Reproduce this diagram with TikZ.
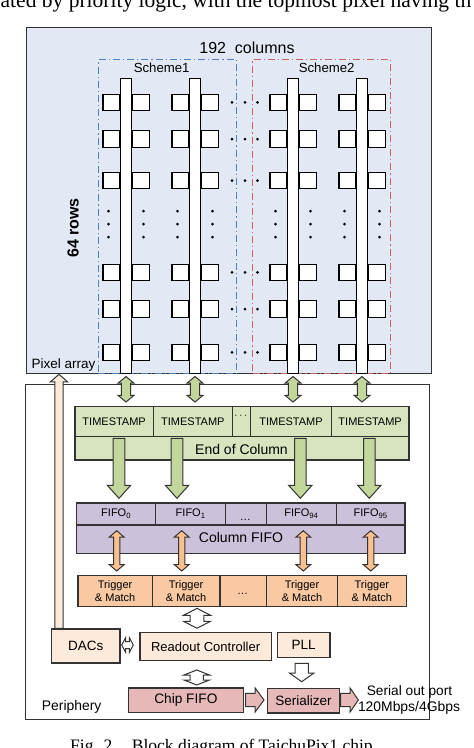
\documentclass[tikz,border=0pt]{standalone}
\usepackage{fontspec}
\setmainfont{Liberation Serif}
\newfontfamily\arialf{Liberation Sans}
\newcommand\fsz[2]{\fontsize{#1}{#2}\selectfont}
\definecolor{pixbg}{HTML}{E3E9F4}
\definecolor{bordc}{HTML}{333333}
\definecolor{schA}{HTML}{4F81BD}
\definecolor{schB}{HTML}{C86464}
\definecolor{greenbk}{HTML}{D7E4BD}
\definecolor{greenar}{HTML}{C3D69B}
\definecolor{purplebk}{HTML}{CCC1DA}
\definecolor{orangebk}{HTML}{F9C9A3}
\definecolor{orangear}{HTML}{FAC090}
\definecolor{paleor}{HTML}{FDEADA}
\definecolor{pinkbk}{HTML}{E6B9B8}
% block arrows: vertical double  {x}{ytop}{ybot}{headhalf}{shafthalf}{headlen}{style}
\newcommand\blkVD[7]{\draw[#7] (#1,#2) -- (#1+#4,#2+#6) -- (#1+#5,#2+#6) -- (#1+#5,#3-#6) -- (#1+#4,#3-#6) -- (#1,#3) -- (#1-#4,#3-#6) -- (#1-#5,#3-#6) -- (#1-#5,#2+#6) -- (#1-#4,#2+#6) -- cycle;}
% vertical down
\newcommand\blkVDown[7]{\draw[#7] (#1-#5,#2) -- (#1+#5,#2) -- (#1+#5,#3-#6) -- (#1+#4,#3-#6) -- (#1,#3) -- (#1-#4,#3-#6) -- (#1-#5,#3-#6) -- cycle;}
% vertical up {x}{ytip}{ybase}
\newcommand\blkVUp[7]{\draw[#7] (#1,#2) -- (#1+#4,#2+#6) -- (#1+#5,#2+#6) -- (#1+#5,#3) -- (#1-#5,#3) -- (#1-#5,#2+#6) -- (#1-#4,#2+#6) -- cycle;}
% horizontal right {y}{xleft}{xtip}
\newcommand\blkHR[7]{\draw[#7] (#2,#1-#5) -- (#3-#6,#1-#5) -- (#3-#6,#1-#4) -- (#3,#1) -- (#3-#6,#1+#4) -- (#3-#6,#1+#5) -- (#2,#1+#5) -- cycle;}
% horizontal double {y}{xl}{xr}
\newcommand\blkHD[7]{\draw[#7] (#2,#1) -- (#2+#6,#1-#4) -- (#2+#6,#1-#5) -- (#3-#6,#1-#5) -- (#3-#6,#1-#4) -- (#3,#1) -- (#3-#6,#1+#4) -- (#3-#6,#1+#5) -- (#2+#6,#1+#5) -- (#2+#6,#1+#4) -- cycle;}
\begin{document}
\begin{tikzpicture}[x=1pt,y=-1pt,
  box/.style={draw=bordc, line width=1.3pt, inner sep=0pt, anchor=north west},
  lbl/.style={font=\arialf\fsz{13.5}{16}, text=black, inner sep=0pt},
  sm/.style={font=\arialf\fsz{11}{13.5}, text=black, inner sep=0pt, align=center},
  pixsq/.style={draw=black, line width=1.1pt, fill=white, minimum width=17pt, minimum height=16.4pt, inner sep=0pt},
  colbar/.style={draw=black, line width=1.1pt, fill=white, inner sep=0pt},
  dotc/.style={circle, fill=black, inner sep=0pt, minimum size=3pt},
  sch/.style={line width=1pt, dash pattern=on 7pt off 3pt on 1.2pt off 3pt, anchor=north west, inner sep=0pt},
  arr/.style={draw=bordc, line width=1pt, line join=miter}]
\useasboundingbox (0,0) rectangle (474,748);
\fill[white] (0,0) rectangle (474,748);

% cut-off text lines of the page
\node[font=\fsz{21.5}{25}, anchor=base west, inner sep=0pt] (toptxt) at (0.5,7.5) {ated by priority logic, with the topmost pixel having th};
\node[font=\fsz{17.5}{21}, anchor=base west, inner sep=0pt] (caption) at (70,751.5) {Fig. 2.\hspace{15pt}Block diagram of TaichuPix1 chip.};

% ---------- pixel array ----------
\node[box, fill=pixbg, minimum width=404.5pt, minimum height=346pt] (pa) at (26,27) {};
\node[font=\arialf\fsz{16}{19}, inner sep=0pt] (cols) at (247,47.5) {192\ \ columns};
\node[draw=schA, sch, minimum width=138pt, minimum height=313.7pt] (s1) at (97.7,59.3) {};
\node[draw=schB, sch, minimum width=137.7pt, minimum height=314.5pt] (s2) at (252.3,58.5) {};
\node[lbl, font=\arialf\fsz{13.2}{16}] (s1lbl) at (161.7,67.5) {Scheme1};
\node[lbl, font=\arialf\fsz{13.2}{16}] (s2lbl) at (326.7,67.5) {Scheme2};

\foreach \c/\x in {1/126,2/195,3/293,4/362}{
  \node[colbar, minimum width=11pt, minimum height=295.3pt, anchor=north] (bar\c) at (\x,77.7) {};
  \foreach \r/\y in {1/102.3,2/139,3/180.7,4/272.3,5/309,6/352.3}{
    \node[pixsq, anchor=east] (sq\c\r-l) at (\x-5.5,\y) {};
    \node[pixsq, anchor=west] (sq\c\r-r) at (\x+5.5,\y) {};
  }
  \foreach \yy [count=\k] in {211,224,237}{
    \node[dotc] (vd\c\k-a) at (\x-17.5,\yy) {};
    \node[dotc] (vd\c\k-b) at (\x+17.5,\yy) {};
  }
}
\foreach \y [count=\r] in {102.3,139,180.7,272.3,309,352.3}{
  \foreach \xx [count=\k] in {232,245,257.5}{
    \node[dotc] (hd\r\k) at (\xx,\y) {};
  }
}
\node[font=\arialf\bfseries\fsz{16}{19}, rotate=90, inner sep=0pt] (rows) at (73,228) {64 rows};
\node[lbl, anchor=base west] (palbl) at (31.5,368) {Pixel array};

% ---------- periphery ----------
\node[box, fill=white, minimum width=404.5pt, minimum height=335pt] (per) at (24.5,384) {};

\foreach \x in {126,195,293,362}{\blkVD{\x}{376.5}{402}{8}{4.6}{6.7}{arr, fill=greenar}}

% End of column
\node[box, fill=greenbk, minimum width=334pt, minimum height=53.6pt] (eoc) at (74.3,405.7) {};
\node[box, fill=greenbk, sm, minimum width=78.4pt, minimum height=30.3pt] (ts1) at (74.3,405.7) {TIMESTAMP};
\node[box, fill=greenbk, sm, minimum width=79pt, minimum height=30.3pt] (ts2) at (152.7,405.7) {TIMESTAMP};
\node[box, fill=greenbk, minimum width=18.3pt, minimum height=30.3pt] (tsd) at (231.7,405.7) {};
\node[box, fill=greenbk, sm, minimum width=80.7pt, minimum height=30.3pt] (ts3) at (250,405.7) {TIMESTAMP};
\node[box, fill=greenbk, sm, minimum width=77.6pt, minimum height=30.3pt] (ts4) at (330.7,405.7) {TIMESTAMP};
\node[sm] (tsdots) at (240.8,416) {$\cdots$};
\node[lbl, font=\arialf\fsz{14}{17}] (eoclbl) at (241.5,449.5) {End of Column};

\foreach \x in {119,177,300.3,369.3}{\blkVDown{\x}{438.3}{498.3}{11.7}{5.8}{13}{arr, fill=greenar}}

% Column FIFO
\node[box, fill=purplebk, minimum width=328.3pt, minimum height=50.4pt] (cf) at (76,502.3) {};
\node[box, fill=purplebk, sm, minimum width=79pt, minimum height=22pt] (f0) at (76,502.3) {FIFO\textsubscript{0}};
\node[box, fill=purplebk, sm, minimum width=70pt, minimum height=22pt] (f1) at (155,502.3) {FIFO\textsubscript{1}};
\node[box, fill=purplebk, minimum width=40.7pt, minimum height=22pt] (fd) at (225,502.3) {};
\node[box, fill=purplebk, sm, minimum width=70pt, minimum height=22pt] (f94) at (265.7,502.3) {FIFO\textsubscript{94}};
\node[box, fill=purplebk, sm, minimum width=68.6pt, minimum height=22pt] (f95) at (335.7,502.3) {FIFO\textsubscript{95}};
\node[sm, anchor=base] (fdots) at (245.3,520) {\ldots};
\node[lbl, font=\arialf\fsz{14}{17}] (cflbl) at (241,537.5) {Column FIFO};

\foreach \x in {116.7,181.7,303.3,370.7}{\blkVD{\x}{530.7}{571}{7.5}{3.2}{6.5}{arr, fill=orangear}}

% Trigger & Match
\node[box, fill=orangebk, sm, minimum width=74.4pt, minimum height=31pt] (t1) at (77.3,575) {Trigger\\\& Match};
\node[box, fill=orangebk, sm, minimum width=67.6pt, minimum height=31pt] (t2) at (151.7,575) {Trigger\\\& Match};
\node[box, fill=orangebk, minimum width=46.7pt, minimum height=31pt] (td) at (219.3,575) {};
\node[box, fill=orangebk, sm, minimum width=70.7pt, minimum height=31pt] (t3) at (266,575) {Trigger\\\& Match};
\node[box, fill=orangebk, sm, minimum width=69pt, minimum height=31pt] (t4) at (336.7,575) {Trigger\\\& Match};
\node[sm, anchor=base] (tdots) at (242.6,594) {\ldots};

\blkVD{197}{608.3}{628.3}{13.5}{6.8}{7}{arr, fill=white}

% control blocks
\node[box, fill=paleor, lbl, minimum width=68.6pt, minimum height=34pt] (dacs) at (50.7,628.3) {DACs};
\node[box, fill=paleor, lbl, font=\arialf\fsz{13}{16}, minimum width=131.4pt, minimum height=28.3pt] (roc) at (139.3,631.7) {Readout Controller};
\node[box, fill=paleor, lbl, minimum width=52.6pt, minimum height=25pt] (pll) at (276.7,631.7) {PLL};

\blkVUp{59}{374.3}{628.3}{8.5}{4.2}{7.5}{arr, fill=paleor}
\blkHD{645}{121.7}{133.3}{7.5}{3.5}{4}{arr, fill=white}
\blkVDown{301.7}{663.3}{681.7}{12}{6.7}{8.5}{arr, fill=white}
\blkVD{196.7}{670}{685}{12.8}{6.7}{5}{arr, fill=white}

\node[box, fill=pinkbk, lbl, font=\arialf\fsz{13.7}{16}, minimum width=115pt, minimum height=24.4pt] (chipf) at (127.7,687.3) {Chip FIFO};
\node[box, fill=pinkbk, lbl, minimum width=72.3pt, minimum height=24.6pt] (ser) at (266.7,687.7) {Serializer};
\blkHR{700}{245.5}{264}{12.2}{6.7}{9}{arr, fill=pinkbk}
\blkHR{700}{340.7}{358.3}{12.2}{6.7}{8.3}{arr, fill=pinkbk}

\node[lbl, font=\arialf\fsz{13.7}{16}, anchor=base] (sop) at (409.5,695) {Serial out port};
\node[lbl, font=\arialf\fsz{13.9}{16}, anchor=base] (rate) at (409,711.5) {120Mbps/4Gbps};
\node[lbl, font=\arialf\fsz{13.9}{16}, anchor=base west] (perlbl) at (41.7,710) {Periphery};
\end{tikzpicture}
\end{document}
